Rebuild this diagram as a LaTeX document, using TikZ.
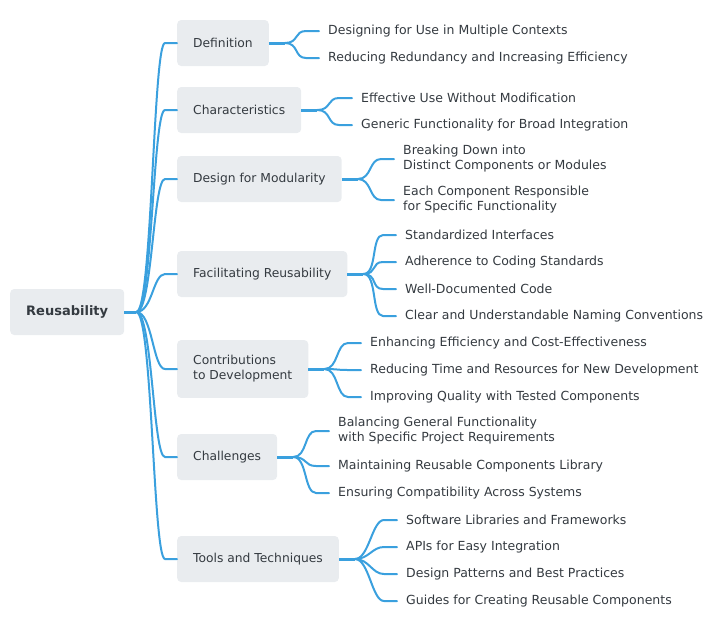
\documentclass[tikz,border=0pt]{standalone}
\usepackage{fontspec}
\setmainfont{DejaVu Sans}
\usetikzlibrary{calc}
\definecolor{brc}{RGB}{58,160,222}
\definecolor{boxc}{RGB}{233,236,239}
\definecolor{txtc}{RGB}{52,58,64}
\tikzset{
  rootbox/.style={fill=boxc,rounded corners=4pt,text=txtc,font=\fontsize{13}{15}\selectfont\bfseries,inner xsep=16pt,minimum height=46pt,anchor=west},
  childbox/.style={fill=boxc,rounded corners=4pt,text=txtc,font=\fontsize{12.3}{15}\selectfont,inner xsep=16pt,inner ysep=15.5pt,minimum height=46pt,align=left,anchor=west},
  leaf/.style={text=txtc,font=\fontsize{12.5}{15}\selectfont,inner sep=0pt,align=left,anchor=west,yshift=-1pt},
  br/.style={draw=brc,line width=2pt,line cap=round},
  stem/.style={draw=brc,line width=3pt},
}
\newcommand{\rootlink}[1]{\draw[br] (r0) .. controls +(16,0) and +(-12,0) .. ([xshift=-12pt]#1.west) -- (#1.west);}
\newcommand{\leaflink}[2]{\draw[br] (#1) .. controls +(14,0) and +(-12,0) .. ([xshift=-22pt]#2.west) -- ([xshift=-9pt]#2.west);}
\begin{document}
\begin{tikzpicture}[x=1pt,y=-1pt]
\useasboundingbox (0,0) rectangle (717,625);
\node[rootbox] (root) at (10,312) {Reusability};
\node[childbox] (c1) at (177,43) {Definition};
\node[childbox] (c2) at (177,110) {Characteristics};
\node[childbox] (c3) at (177,179) {Design for Modularity};
\node[childbox] (c4) at (177,274) {Facilitating Reusability};
\node[childbox] (c5) at (177,369) {Contributions\\to Development};
\node[childbox] (c6) at (177,457) {Challenges};
\node[childbox] (c7) at (177,559) {Tools and Techniques};
% leaves
\node[leaf] (l11) at (328,30) {Designing for Use in Multiple Contexts};
\node[leaf] (l12) at (328,57) {Reducing Redundancy and Increasing Efficiency};
\node[leaf] (l21) at (361,97) {Effective Use Without Modification};
\node[leaf] (l22) at (361,124) {Generic Functionality for Broad Integration};
\node[leaf] (l31) at (403,158) {Breaking Down into\\Distinct Components or Modules};
\node[leaf] (l32) at (403,199) {Each Component Responsible\\for Specific Functionality};
\node[leaf] (l41) at (405,234) {Standardized Interfaces};
\node[leaf] (l42) at (405,261) {Adherence to Coding Standards};
\node[leaf] (l43) at (405,288) {Well-Documented Code};
\node[leaf] (l44) at (405,315) {Clear and Understandable Naming Conventions};
\node[leaf] (l51) at (370,342) {Enhancing Efficiency and Cost-Effectiveness};
\node[leaf] (l52) at (370,369) {Reducing Time and Resources for New Development};
\node[leaf] (l53) at (370,396) {Improving Quality with Tested Components};
\node[leaf] (l61) at (338,430) {Balancing General Functionality\\with Specific Project Requirements};
\node[leaf] (l62) at (338,465) {Maintaining Reusable Components Library};
\node[leaf] (l63) at (338,492) {Ensuring Compatibility Across Systems};
\node[leaf] (l71) at (406,519) {Software Libraries and Frameworks};
\node[leaf] (l72) at (406,546) {APIs for Easy Integration};
\node[leaf] (l73) at (406,573) {Design Patterns and Best Practices};
\node[leaf] (l74) at (406,600) {Guides for Creating Reusable Components};
% root links
\draw[stem] (root.east) -- ++(12,0) coordinate (r0);
\foreach \c in {c1,c2,c3,c4,c5,c6,c7}{\rootlink{\c}}
% child stems
\foreach \c in {c1,c2,c3,c4,c5,c6,c7}{\draw[stem] (\c.east) -- ++(16,0) coordinate (f\c);}
\leaflink{fc1}{l11}\leaflink{fc1}{l12}
\leaflink{fc2}{l21}\leaflink{fc2}{l22}
\leaflink{fc3}{l31}\leaflink{fc3}{l32}
\leaflink{fc4}{l41}\leaflink{fc4}{l42}\leaflink{fc4}{l43}\leaflink{fc4}{l44}
\leaflink{fc5}{l51}\leaflink{fc5}{l52}\leaflink{fc5}{l53}
\leaflink{fc6}{l61}\leaflink{fc6}{l62}\leaflink{fc6}{l63}
\leaflink{fc7}{l71}\leaflink{fc7}{l72}\leaflink{fc7}{l73}\leaflink{fc7}{l74}
\end{tikzpicture}
\end{document}
